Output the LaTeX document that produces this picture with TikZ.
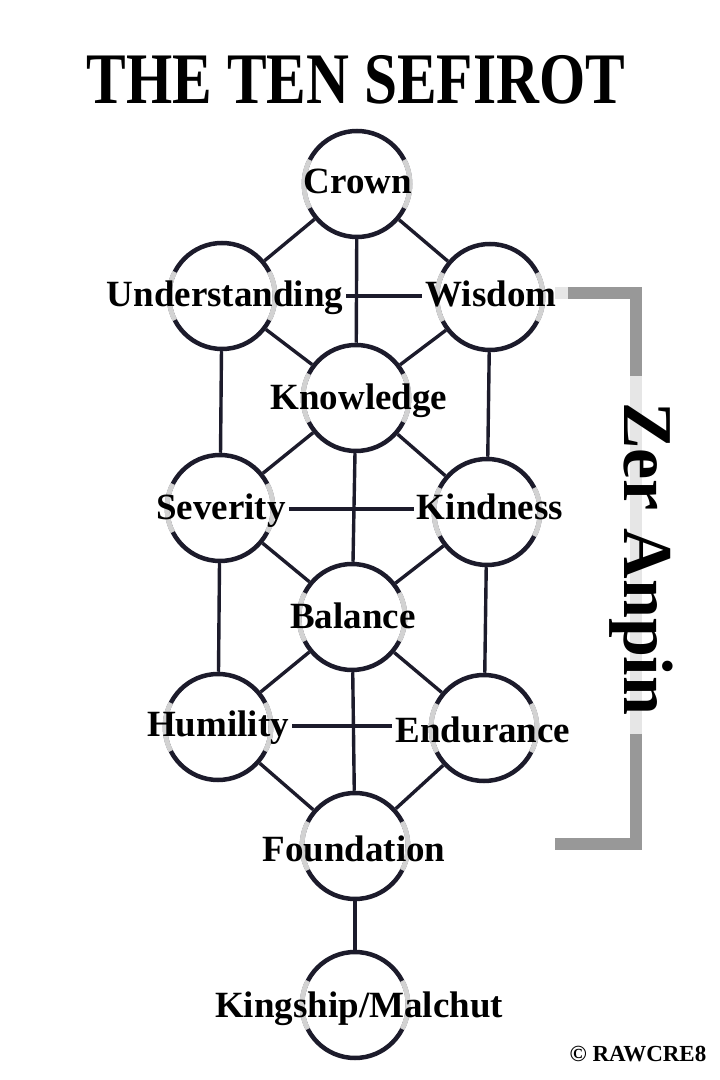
\documentclass[tikz,border=0pt]{standalone}
\usepackage{fontspec}
\usepackage{graphicx}
\setmainfont{Liberation Serif}
\definecolor{ink}{HTML}{1C1B2B}
\definecolor{halogray}{HTML}{D2D2D2}
\definecolor{brackgray}{HTML}{989898}
\definecolor{bracklight}{HTML}{E6E6E6}
\begin{document}
\begin{tikzpicture}[x=1pt,y=1pt,
  sefira/.style={circle,draw=ink,line width=4.5pt,minimum size=106pt,inner sep=0pt},
  halo/.style={draw=halogray,line width=4.9pt},
  conn/.style={draw=ink,line width=3.4pt},
  lbl/.style={font=\fontsize{37}{40}\selectfont\bfseries,text=black,inner sep=3pt,anchor=base},
  brk/.style={draw=brackgray,line width=12pt,line join=miter},
  brklight/.style={draw=bracklight,line width=12pt},
]
\useasboundingbox (0,0) rectangle (720,1080);
% circles
\node[sefira] (crown) at (357,896) {};
\node[sefira] (und)   at (222,784) {};
\node[sefira] (wis)   at (490,783) {};
\node[sefira] (know)  at (356,682) {};
\node[sefira] (sev)   at (220,572) {};
\node[sefira] (kind)  at (487,568) {};
\node[sefira] (bal)   at (352,463) {};
\node[sefira] (hum)   at (218,353) {};
\node[sefira] (endu)  at (484,352) {};
\node[sefira] (found) at (355,234) {};
\node[sefira] (king)  at (355,75)  {};
% light segments where the text crosses
\foreach \n in {crown,und,wis,know,sev,kind,bal,hum,endu,found,king}{
  \draw[halo] (\n.center) ++(-27:53pt) arc[start angle=-27,end angle=27,radius=53pt];
  \draw[halo] (\n.center) ++(153:53pt) arc[start angle=153,end angle=207,radius=53pt];
}
% connectors
\draw[conn] (crown) -- (und);
\draw[conn] (crown) -- (wis);
\draw[conn] (crown) -- (know);
\draw[conn] (und) -- (know);
\draw[conn] (wis) -- (know);
\draw[conn] (und) -- (sev);
\draw[conn] (wis) -- (kind);
\draw[conn] (know) -- (sev);
\draw[conn] (know) -- (kind);
\draw[conn] (know) -- (bal);
\draw[conn] (sev) -- (bal);
\draw[conn] (kind) -- (bal);
\draw[conn] (sev) -- (hum);
\draw[conn] (kind) -- (endu);
\draw[conn] (bal) -- (hum);
\draw[conn] (bal) -- (endu);
\draw[conn] (bal) -- (found);
\draw[conn] (hum) -- (found);
\draw[conn] (endu) -- (found);
\draw[conn] (found) -- (king);
% labels
\node[lbl] (tcrown) at (358,886) {Crown};
\node[lbl] (tund)   at (225,773) {Understanding};
\node[lbl] (twis)   at (491,773) {Wisdom};
\node[lbl] (tknow)  at (359,670) {Knowledge};
\node[lbl] (tsev)   at (221,560) {Severity};
\node[lbl] (tkind)  at (490,560) {Kindness};
\node[lbl] (tbal)   at (353,451) {Balance};
\node[lbl] (thum)   at (218,343) {Humility};
\node[lbl] (tendu)  at (483,337) {Endurance};
\node[lbl] (tfound) at (354,218) {Foundation};
\node[lbl] (tking)  at (359,62)  {Kingship/Malchut};
% horizontal paths
\coordinate (h1) at ([yshift=11pt]tund.base east);
\draw[conn] (h1) -- (h1 -| twis.west);
\coordinate (h2) at ([yshift=11pt]tsev.base east);
\draw[conn] (h2) -- (h2 -| tkind.west);
\coordinate (h3) at ([yshift=11pt]thum.base east);
\draw[conn] (h3) -- (h3 -| tendu.west);
% bracket
\draw[brklight] (555,787) -- (568,787);
\draw[brk] (568,787) -- (636,787) -- (636,704);
\draw[brklight] (636,704) -- (636,346);
\draw[brk] (636,346) -- (636,236) -- (555,236);
\node[font=\fontsize{70}{72}\selectfont\bfseries,rotate=-90,anchor=base west,inner sep=0pt] (zer) at (624,678) {Zer Anpin};
% title and credit
\node[anchor=base,inner sep=0pt] (title) at (356,976) {\scalebox{0.9}[1.1]{\fontsize{66}{70}\selectfont\bfseries THE TEN SEFIROT}};
\node[anchor=base,inner sep=0pt,font=\fontsize{23}{25}\selectfont\bfseries] (credit) at (638,18) {© RAWCRE8};
\end{tikzpicture}
\end{document}
